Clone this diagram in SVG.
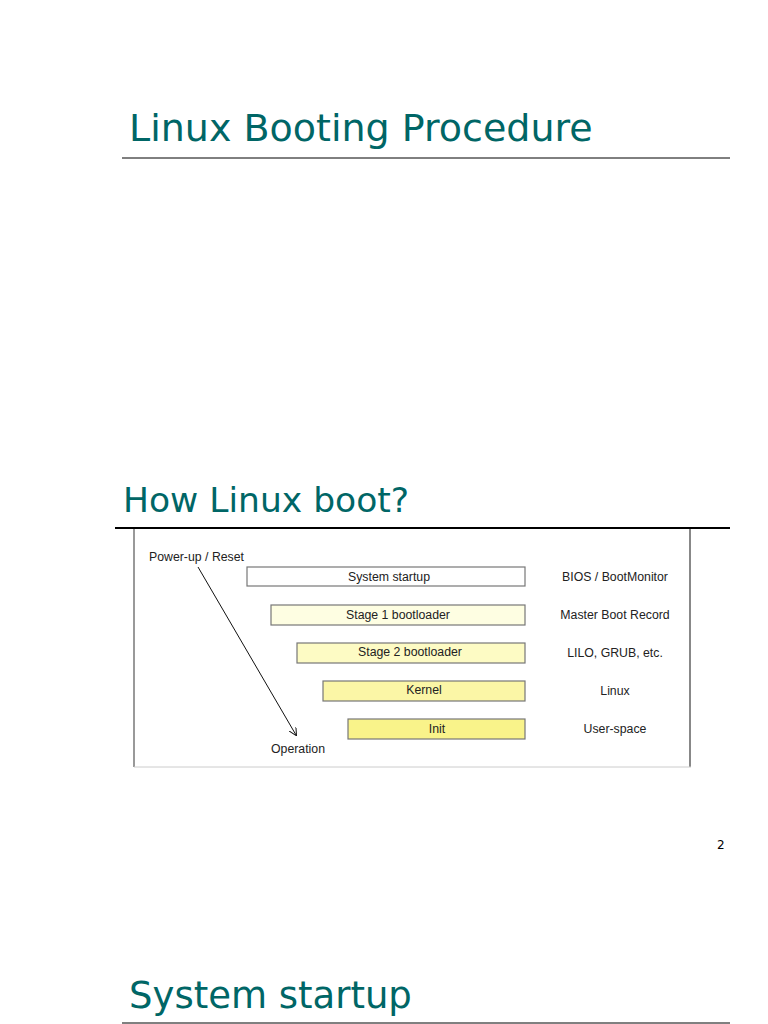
<svg xmlns="http://www.w3.org/2000/svg" width="768" height="1024" viewBox="0 0 768 1024">
<style>
.t{font-family:"DejaVu Sans",sans-serif;fill:#006666}
.s{font-family:"Liberation Sans",Arial,sans-serif;font-size:12.3px;fill:#222}
.b{stroke:#777;stroke-width:1.2}
</style>
<defs><marker id="ah" markerWidth="8" markerHeight="8" refX="7" refY="4" orient="auto" markerUnits="userSpaceOnUse"><path d="M0,0 L8,4 L0,8" fill="none" stroke="#111" stroke-width="1"/></marker></defs>
<rect width="768" height="1024" fill="#fff"/>
<text class="t" x="129" y="141" font-size="38">Linux Booting Procedure</text>
<line x1="122" y1="158" x2="730" y2="158" stroke="#000"/>
<text class="t" x="123" y="512" font-size="34.5">How Linux boot?</text>
<line x1="115" y1="528" x2="730" y2="528" stroke="#000" stroke-width="2"/>
<rect x="134" y="529" width="557" height="238" fill="#fff"/>
<line x1="134" y1="529" x2="134" y2="767" stroke="#999" stroke-width="2"/>
<line x1="690" y1="529" x2="690" y2="767" stroke="#888" stroke-width="2"/>
<line x1="134" y1="767" x2="691" y2="767" stroke="#ccc"/>
<text class="s" x="149" y="561">Power-up / Reset</text>
<text class="s" x="271" y="753">Operation</text>
<g id="connectors"><line x1="198" y1="567" x2="296" y2="735" stroke="#111" stroke-width="1" marker-end="url(#ah)"/></g>
<g id="n1"><rect class="b" x="247" y="567" width="278" height="19" fill="#fff"/><text class="s" x="389" y="581" text-anchor="middle">System startup</text></g>
<g id="n2"><rect class="b" x="271" y="605" width="254" height="20" fill="#fefee2"/><text class="s" x="398" y="619" text-anchor="middle">Stage 1 bootloader</text></g>
<g id="n3"><rect class="b" x="297" y="643" width="228" height="20" fill="#fdfbc4"/><text class="s" x="410" y="656" text-anchor="middle">Stage 2 bootloader</text></g>
<g id="n4"><rect class="b" x="323" y="681" width="202" height="20" fill="#fbf6a6"/><text class="s" x="424" y="694" text-anchor="middle">Kernel</text></g>
<g id="n5"><rect class="b" x="348" y="719" width="177" height="20" fill="#f9f38a"/><text class="s" x="437" y="733" text-anchor="middle">Init</text></g>
<text class="s" x="615" y="581" text-anchor="middle">BIOS / BootMonitor</text>
<text class="s" x="615" y="619" text-anchor="middle">Master Boot Record</text>
<text class="s" x="615" y="657" text-anchor="middle">LILO, GRUB, etc.</text>
<text class="s" x="615" y="695" text-anchor="middle">Linux</text>
<text class="s" x="615" y="733" text-anchor="middle">User-space</text>
<text x="717" y="849" font-family="DejaVu Sans,sans-serif" font-size="12" fill="#000">2</text>
<text class="t" x="129" y="1008" font-size="37">System startup</text>
<line x1="122" y1="1023" x2="730" y2="1023" stroke="#000"/>
</svg>
